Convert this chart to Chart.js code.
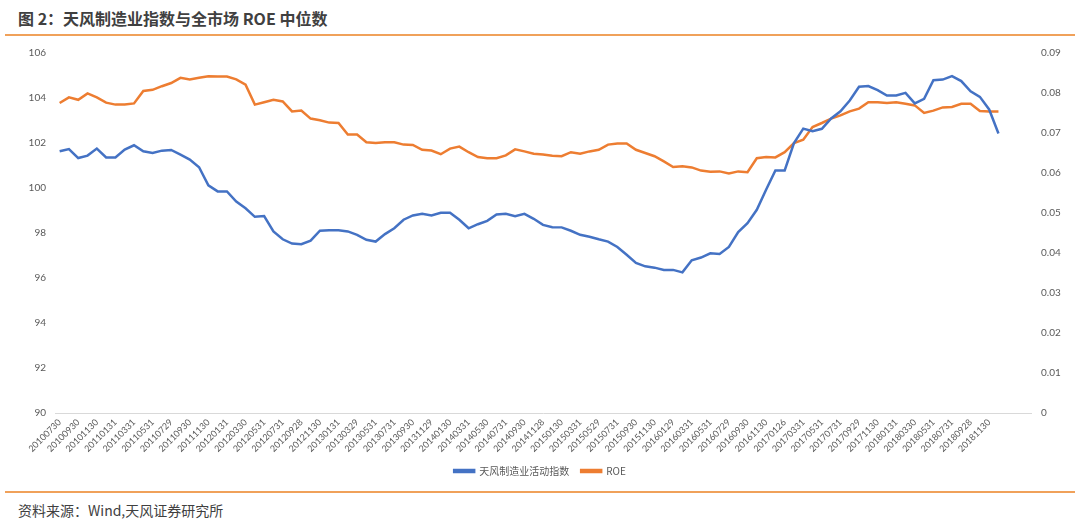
<!DOCTYPE html>
<html lang="zh-CN">
  <head>
    <meta charset="UTF-8" />
    <title>天风制造业指数与全市场ROE中位数</title>
    <script src="https://cdn.jsdelivr.net/npm/chart.js"></script>
    <style>
      body {
        margin: 0;
        background: #fff;
        width: 1080px;
        height: 523px;
        position: relative;
        overflow: hidden;
        font-family: "Noto Sans CJK SC", sans-serif;
      }
      .title {
        position: absolute;
        left: 18px;
        top: 6px;
        font-size: 16px;
        font-weight: bold;
        color: #404040;
      }
      .rule {
        position: absolute;
        left: 5px;
        width: 1070px;
        height: 2px;
        background: #f0a15a;
      }
      .source {
        position: absolute;
        left: 18px;
        top: 500px;
        font-size: 14px;
        color: #404040;
      }
      .chart-box {
        position: absolute;
        left: 0;
        top: 37px;
        width: 1080px;
        height: 451px;
      }
    </style>
  </head>
  <body>
    <div class="title">图 2：天风制造业指数与全市场 ROE 中位数</div>
    <div class="rule" style="top: 34px"></div>
    <div class="chart-box"><canvas id="mfgChart"></canvas></div>
    <div class="rule" style="top: 491px"></div>
    <div class="source">资料来源：Wind,天风证券研究所</div>

    <script>
      // axis labels shown every other month
      var tickLabels = [
        "20100730", "20100930", "20101130", "20110131", "20110331", "20110531",
        "20110729", "20110930", "20111130", "20120131", "20120330", "20120531",
        "20120731", "20120928", "20121130", "20130131", "20130329", "20130531",
        "20130731", "20130930", "20131129", "20140130", "20140331", "20140530",
        "20140731", "20140930", "20141128", "20150130", "20150331", "20150529",
        "20150731", "20150930", "20151130", "20160129", "20160331", "20160531",
        "20160729", "20160930", "20161130", "20170126", "20170331", "20170531",
        "20170731", "20170929", "20171130", "20180131", "20180330", "20180531",
        "20180731", "20180928", "20181130",
      ];

      // 天风制造业活动指数 (left axis), monthly
      var mfgIndex = [
        101.63, 101.73, 101.33, 101.44, 101.75, 101.36, 101.36, 101.71, 101.9, 101.63,
        101.56, 101.66, 101.69, 101.48, 101.26, 100.92, 100.12, 99.85, 99.85, 99.4,
        99.1, 98.72, 98.75, 98.07, 97.72, 97.53, 97.5, 97.66, 98.1, 98.12,
        98.12, 98.07, 97.92, 97.7, 97.62, 97.95, 98.21, 98.59, 98.78, 98.85,
        98.78, 98.9, 98.9, 98.59, 98.21, 98.39, 98.54, 98.82, 98.85, 98.75,
        98.85, 98.63, 98.36, 98.26, 98.25, 98.1, 97.92, 97.83, 97.72, 97.62,
        97.38, 97.03, 96.67, 96.52, 96.46, 96.36, 96.36, 96.25, 96.79, 96.91,
        97.1, 97.07, 97.38, 98.04, 98.44, 99.03, 99.92, 100.78, 100.78, 102.0,
        102.64, 102.52, 102.63, 103.09, 103.41, 103.89, 104.5, 104.53, 104.35, 104.11,
        104.11, 104.23, 103.76, 103.96, 104.79, 104.82, 104.97, 104.75, 104.3, 104.05,
        103.49, 102.42,
      ];

      // 全市场 ROE 中位数 (right axis), monthly
      var roeMedian = [
        0.0775, 0.0789, 0.0783, 0.0799, 0.0789, 0.0776, 0.0771, 0.0771, 0.0774, 0.0805,
        0.0808, 0.0817, 0.0825, 0.0838, 0.0834, 0.0838, 0.0842, 0.0841, 0.0841, 0.0834,
        0.0821, 0.0771, 0.0777, 0.0783, 0.0779, 0.0754, 0.0756, 0.0736, 0.0732, 0.0726,
        0.0725, 0.0696, 0.0696, 0.0677, 0.0675, 0.0677, 0.0677, 0.0671, 0.067, 0.0658,
        0.0656, 0.0647, 0.0661, 0.0666, 0.0652, 0.064, 0.0637, 0.0637, 0.0644, 0.0659,
        0.0654, 0.0648, 0.0646, 0.0643, 0.0642, 0.0652, 0.0648, 0.0654, 0.0658, 0.0671,
        0.0674, 0.0674, 0.0658, 0.065, 0.0642, 0.0629, 0.0615, 0.0617, 0.0614, 0.0606,
        0.0603, 0.0604, 0.0599, 0.0604, 0.0602, 0.0637, 0.064, 0.0639, 0.0652, 0.0675,
        0.0683, 0.0715, 0.0725, 0.0736, 0.0744, 0.0754, 0.0761, 0.0777, 0.0777, 0.0775,
        0.0777, 0.0773, 0.0769, 0.075, 0.0756, 0.0764, 0.0765, 0.0773, 0.0773, 0.0755,
        0.0754, 0.0754,
      ];

      // 105 category slots on the axis, labelled every second month
      var categories = [];
      for (var i = 0; i < 105; i++) {
        categories.push(i % 2 === 0 && tickLabels[i / 2] ? tickLabels[i / 2] : "");
      }

      var tickColor = "#595959";
      var numFont = "Lato, 'Noto Sans CJK SC', sans-serif";

      var ctx = document.getElementById("mfgChart").getContext("2d");
      var mfgChart = new Chart(ctx, {
        type: "line",
        data: {
          labels: categories,
          datasets: [
            {
              label: "天风制造业活动指数",
              data: mfgIndex,
              yAxisID: "y",
              borderColor: "#4472c4",
              backgroundColor: "#4472c4",
              borderWidth: 2.5,
              pointRadius: 0,
              tension: 0,
            },
            {
              label: "ROE",
              data: roeMedian,
              yAxisID: "y1",
              borderColor: "#ed7d31",
              backgroundColor: "#ed7d31",
              borderWidth: 2.5,
              pointRadius: 0,
              tension: 0,
            },
          ],
        },
        options: {
          responsive: true,
          maintainAspectRatio: false,
          animation: false,
          layout: { padding: { top: 9, left: 0, right: 0, bottom: 2 } },
          plugins: {
            legend: {
              position: "bottom",
              labels: {
                boxWidth: 20,
                boxHeight: 2,
                padding: 12,
                color: tickColor,
                font: { size: 10, family: "'Noto Sans CJK SC', sans-serif" },
              },
            },
            tooltip: { enabled: false },
          },
          scales: {
            x: {
              offset: true,
              grid: { display: false, drawTicks: false },
              border: { display: true, color: "#d9d9d9", width: 1 },
              ticks: {
                autoSkip: false,
                minRotation: 45,
                maxRotation: 45,
                padding: 4,
                color: tickColor,
                font: { size: 9, family: numFont },
              },
              afterFit: function (scale) {
                scale.height = 41;
              },
            },
            y: {
              position: "left",
              min: 90,
              max: 106,
              grid: { display: false, drawTicks: false },
              border: { display: false },
              ticks: {
                stepSize: 2,
                padding: 9,
                color: tickColor,
                font: { size: 10, family: numFont },
              },
              afterFit: function (scale) {
                scale.width = 55;
              },
            },
            y1: {
              position: "right",
              min: 0,
              max: 0.09,
              grid: { display: false, drawTicks: false },
              border: { display: false },
              ticks: {
                stepSize: 0.01,
                padding: 10,
                color: tickColor,
                font: { size: 10, family: numFont },
                callback: function (value) {
                  return value === 0 ? "0" : value.toFixed(2);
                },
              },
              afterFit: function (scale) {
                scale.width = 49;
              },
            },
          },
        },
      });
    </script>
  </body>
</html>
